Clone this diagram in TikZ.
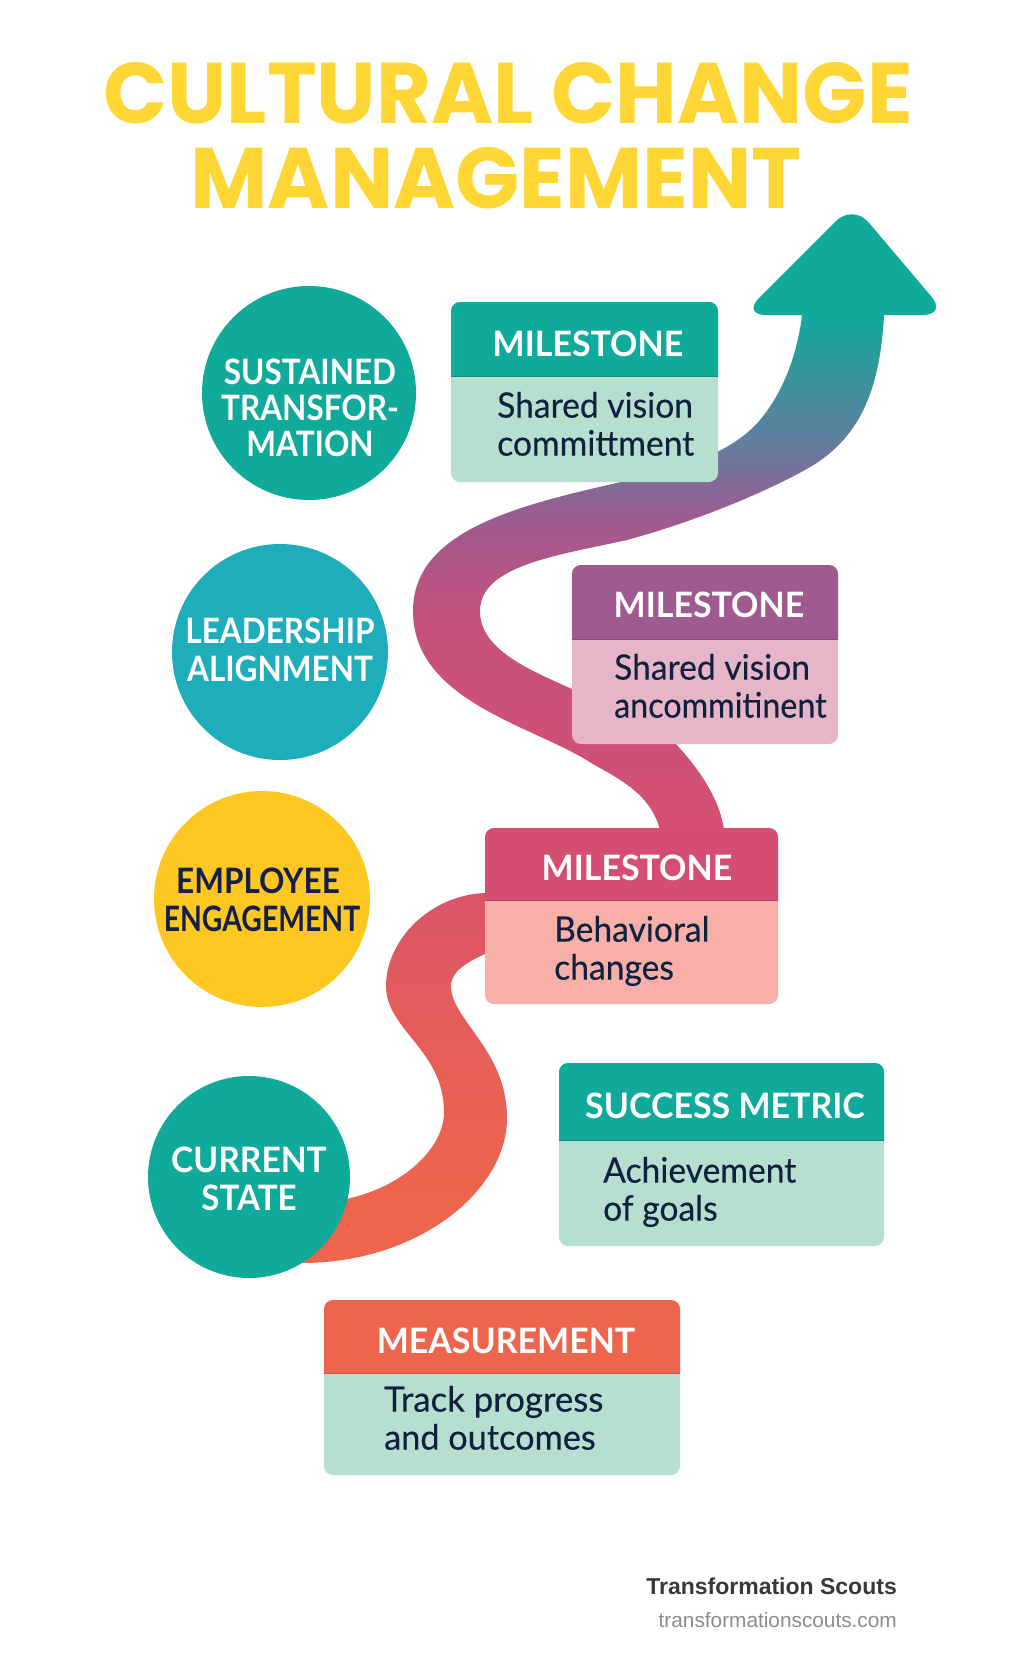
\documentclass[tikz,border=0pt]{standalone}
\usepackage{fontspec}
\setmainfont{Lato}
\newfontfamily\titlefont[FakeStretch=0.98]{Poppins}
\newfontfamily\footfont{Liberation Sans}
\newfontfamily\discfont[FakeStretch=0.9]{Lato}
\newfontfamily\headfont[FakeStretch=0.97]{Lato}
\newfontfamily\bodyfont[FakeStretch=0.96,FakeBold=0.3]{Lato}
\definecolor{tealc}{HTML}{10AA9A}
\definecolor{mintc}{HTML}{B7DFD0}
\definecolor{plumc}{HTML}{9F5A90}
\definecolor{rosec}{HTML}{E6B5C8}
\definecolor{pinkc}{HTML}{D44E74}
\definecolor{peachc}{HTML}{F7AFA7}
\definecolor{coralc}{HTML}{EE654D}
\definecolor{cyanc}{HTML}{1FADBB}
\definecolor{sunc}{HTML}{FFC722}
\definecolor{titlec}{HTML}{FFD633}
\definecolor{inkc}{HTML}{10203F}
\definecolor{navyc}{HTML}{14204A}
\definecolor{slatec}{HTML}{5F7F9F}
\pgfdeclareverticalshading{bandshade}{100bp}{
	color(0bp)=(coralc);
	color(28bp)=(coralc);
	color(37.5bp)=(coralc!60!pinkc);
	color(45.5bp)=(pinkc!95!coralc);
	color(55.4bp)=(pinkc!70!plumc);
	color(60.1bp)=(plumc);
	color(63.9bp)=(slatec);
	color(69.8bp)=(tealc);
	color(100bp)=(tealc)}
\def\cardbox[#1:#2](#3,#4,#5,#6,#7){
	\fill[fill=#2, rounded corners=9] (#3,#4) rectangle (#5,#7);
	\fill[fill=#1] (#3,#6) [rounded corners=9] -- (#3,#4) -- (#5,#4) [sharp corners] -- (#5,#6) -- cycle;
	\draw[#1!85!black] (#3,#6) -- (#5,#6);
}
\tikzset{
	disc/.style={circle, inner sep=0, minimum size=#1},
	disctext/.style={inner sep=0, align=center, font=\fontsize{35}{38}\selectfont\discfont\bfseries},
	headtext/.style={inner sep=0, text=white, font=\fontsize{35}{38}\selectfont\headfont\bfseries},
	bodytext/.style={inner sep=0, anchor=west, align=left, text=inkc, font=\fontsize{35}{38}\selectfont\bodyfont},
}
\begin{document}
\begin{tikzpicture}[x=1pt, y=-1pt]
	\useasboundingbox (0,0) rectangle (1024,1666);
	\fill[white] (0,0) rectangle (1024,1666);

	%%%%% TITLE %%%%%
	\node[text=titlec, font=\fontsize{86}{86}\selectfont\titlefont\bfseries, inner sep=0] (title1) at (508,93) {CULTURAL CHANGE};
	\node[text=titlec, font=\fontsize{86}{86}\selectfont\titlefont\bfseries, inner sep=0] (title2) at (496,178) {MANAGEMENT};

	%%%%% ARROW BAND %%%%%
	\path[shade, shading=bandshade] (802,315)
		[rounded corners=24] -- (742,315) -- (853,204) -- (947,315) [sharp corners] -- (884,315)
		.. controls (880,390) and (860,440) .. (805,470)
		.. controls (765,492) and (700,520) .. (627,540)
		.. controls (560,555) and (480,565) .. (480,611)
		.. controls (480,650) and (530,670) .. (572,689)
		.. controls (620,712) and (660,725) .. (676,744)
		.. controls (700,770) and (720,800) .. (724,830)
		-- (700,950) -- (485,954)
		.. controls (460,965) and (451,975) .. (451,986)
		.. controls (451,1020) and (507,1050) .. (507,1118)
		.. controls (507,1190) and (420,1262) .. (304,1263)
		-- (260,1262) -- (260,1190) -- (346,1199)
		.. controls (400,1188) and (444,1150) .. (444,1112)
		.. controls (444,1050) and (386,1030) .. (386,986)
		.. controls (386,940) and (430,895) .. (485,893)
		-- (600,893) -- (660,830)
		.. controls (650,790) and (610,775) .. (588,761)
		.. controls (530,725) and (413,700) .. (413,611)
		.. controls (413,530) and (520,505) .. (621,482)
		.. controls (680,468) and (730,455) .. (760,420)
		.. controls (785,390) and (798,350) .. (802,315)
		-- cycle;

	%%%%% CARDS %%%%%
	\cardbox[tealc:mintc](451,302,718,376,482)
	\node[headtext] (m1head) at (588,344) {MILESTONE};
	\node[bodytext] (m1text) at (497,429) {\strut Shared vision\\committment\strut};

	\cardbox[plumc:rosec](572,565,838,639,744)
	\node[headtext] (m2head) at (709,605) {MILESTONE};
	\node[bodytext] (m2text) at (614,691) {\strut Shared vision\\\scalebox{0.96}[1]{ancommitinent}\strut};

	\cardbox[pinkc:peachc](485,828,778,900,1004)
	\node[headtext] (m3head) at (637,868) {MILESTONE};
	\node[bodytext] (m3text) at (554,953) {\strut Behavioral\\changes\strut};

	\cardbox[tealc:mintc](559,1063,884,1140,1246)
	\node[headtext] (metrichead) at (725,1106) {SUCCESS METRIC};
	\node[bodytext] (metrictext) at (603,1194) {\strut Achievement\\of goals\strut};

	\cardbox[coralc:mintc](324,1300,680,1373,1475)
	\node[headtext] (measurehead) at (506,1341) {MEASUREMENT};
	\node[bodytext] (measuretext) at (384,1423) {\strut \scalebox{1.035}[1]{Track progress}\\\scalebox{1.02}[1]{and outcomes}\strut};

	%%%%% CIRCLES %%%%%
	\node[disc=214, fill=tealc] (sustained) at (309,393) {};
	\node[disctext, text=white] (sustainedtext) at (310,408) {SUSTAINED\\[-2pt]TRANSFOR-\\[-2pt]MATION};

	\node[disc=216, fill=cyanc] (leadership) at (280,652) {};
	\node[disctext, text=white] (leadershiptext) at (280,650) {LEADERSHIP\\ALIGNMENT};

	\node[disc=216, fill=sunc] (employee) at (262,899) {};
	\node[disctext, text=navyc] (employeetext) at (258,900) {EMPLOYEE\\\hspace*{8pt}\scalebox{0.9}[1]{ENGAGEMENT}};

	\node[disc=202, fill=tealc] (current) at (249,1177) {};
	\node[disctext, text=white] (currenttext) at (249,1179) {\scalebox{1.065}[1]{CURRENT}\\\scalebox{1.05}[1]{STATE}};

	%%%%% FOOTER %%%%%
	\node[anchor=base east, inner sep=0, text=black!78, font=\fontsize{23}{25}\selectfont\footfont\bfseries] (brand) at (897,1594) {Transformation Scouts};
	\node[anchor=base east, inner sep=0, text=black!45, font=\fontsize{20.8}{22}\selectfont\footfont] (site) at (897,1627) {transformationscouts.com};
\end{tikzpicture}
\end{document}
